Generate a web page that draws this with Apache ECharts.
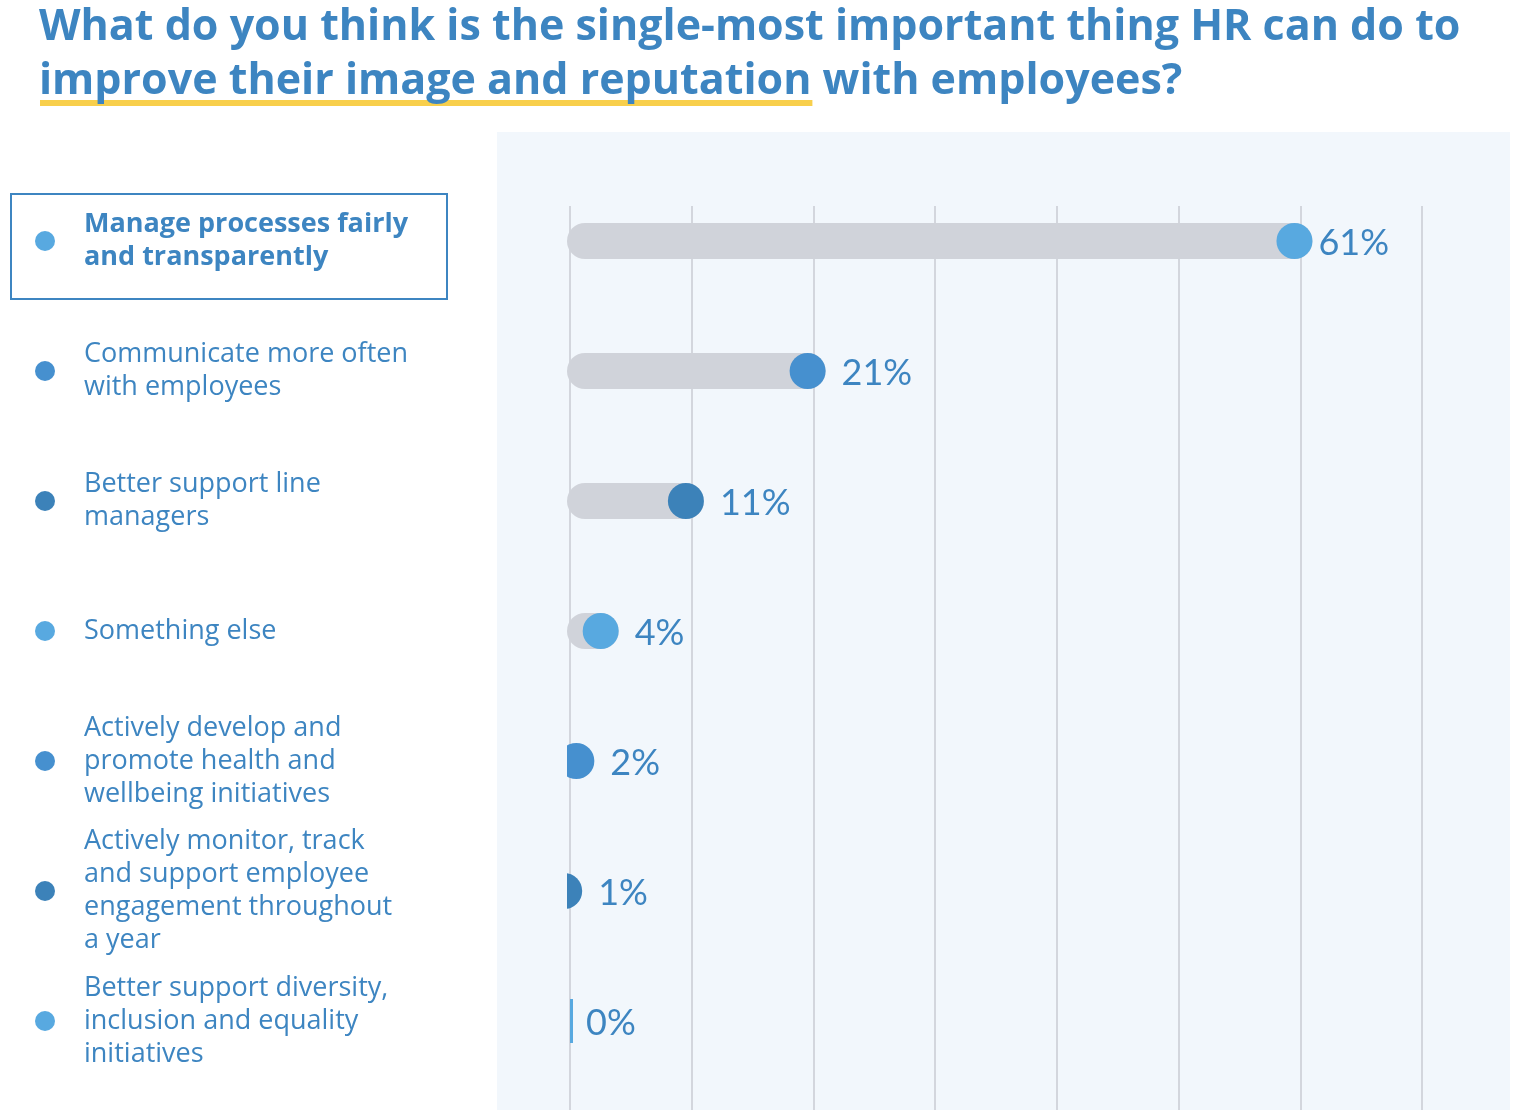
<!DOCTYPE html>
<html>
<head>
<meta charset="utf-8">
<script src="https://cdn.jsdelivr.net/npm/echarts@6/dist/echarts.min.js"></script>
<style>
html,body{margin:0;padding:0;background:#fff;}
#chart{width:1524px;height:1110px;}
</style>
</head>
<body>
<div id="chart"></div>
<script>
const titleLine1 = "What do you think is the single-most important thing HR can do to";
const titleUnderlined = "improve their image and reputation";
const titleRest = " with employees?";

const categories = [
  "Manage processes fairly\nand transparently",
  "Communicate more often\nwith employees",
  "Better support line\nmanagers",
  "Something else",
  "Actively develop and\npromote health and\nwellbeing initiatives",
  "Actively monitor, track\nand support employee\nengagement throughout\na year",
  "Better support diversity,\ninclusion and equality\ninitiatives"
];
const values = [61, 21, 11, 4, 2, 1, 0];
const highlighted = [true, false, false, false, false, false, false];
const axisTicks = [0, 10, 20, 30, 40, 50, 60, 70];

const dotColors = ["#58a9e0", "#4690cf", "#3c82b9"];
const textBlue = "#3d85c1";
const TITLE_FONT = "bold 43px 'Open Sans'";
const LABEL_FONT = "Open Sans";
const NUM_FONT = "Lato";

const chart = echarts.init(document.getElementById('chart'));

const cv = document.createElement('canvas').getContext('2d');
cv.font = TITLE_FONT;
const underlineW = cv.measureText(titleUnderlined).width;

const ROW_TOP = 176, ROW_H = 910;
const AX_LEFT = 570, AX_W = 852;

function renderBar(params, api) {
  const idx = api.value(1);
  const v = api.value(0);
  const p0 = api.coord([0, idx]);
  const p1 = api.coord([v, idx]);
  const y = p0[1];
  const h = 36, r = 18;
  const color = dotColors[params.dataIndex % 3];
  const children = [];
  const x0 = p0[0] - 3;
  const x1 = p1[0];
  if (v > 0) {
    if (x1 - x0 > h) {
      children.push({
        type: 'rect',
        shape: { x: x0, y: y - h / 2, width: x1 - x0, height: h, r: r },
        style: { fill: '#d0d3da' }
      });
    }
    children.push({
      type: 'circle',
      shape: { cx: x1 - r, cy: y, r: r },
      style: { fill: color },
      clipPath: { type: 'rect', shape: { x: x0, y: y - h, width: x1 - x0 + h, height: 2 * h } }
    });
  } else {
    children.push({
      type: 'rect',
      shape: { x: p0[0], y: y - 22, width: 3, height: 44 },
      style: { fill: color }
    });
  }
  children.push({
    type: 'text',
    style: {
      text: v + '%',
      x: x1 + (v > 50 ? 6 : 16),
      y: y + 2,
      fill: textBlue,
      fontSize: 36,
      fontFamily: NUM_FONT,
      verticalAlign: 'middle',
      align: 'left'
    }
  });
  return { type: 'group', children: children };
}

const labelStyle = {
  align: 'left', verticalAlign: 'middle',
  fontSize: 27, lineHeight: 33, color: textBlue, fontFamily: LABEL_FONT
};

const option = {
  backgroundColor: '#ffffff',
  animation: false,
  graphic: [
    { type: 'rect', z: -10, shape: { x: 497, y: 132, width: 1013, height: 978 }, style: { fill: '#f2f7fc' } },
    { type: 'rect', z: 1, shape: { x: 40, y: 100, width: underlineW, height: 6 }, style: { fill: '#f8cf4c' } },
    { type: 'text', z: 2, style: { text: titleLine1, x: 39, y: 28, fill: textBlue, font: TITLE_FONT, verticalAlign: 'middle' } },
    { type: 'text', z: 2, style: { text: titleUnderlined + titleRest, x: 39, y: 82, fill: textBlue, font: TITLE_FONT, verticalAlign: 'middle' } },
    { type: 'rect', z: 2, shape: { x: 11, y: 194, width: 436, height: 105 }, style: { fill: 'none', stroke: '#3d85c1', lineWidth: 2 } }
  ],
  grid: [
    { left: AX_LEFT, width: AX_W, top: 206, bottom: 0, outerBoundsMode: 'none', containLabel: false },
    { left: AX_LEFT, width: AX_W, top: ROW_TOP, height: ROW_H, outerBoundsMode: 'none', containLabel: false },
    { left: 25, width: 40, top: ROW_TOP, height: ROW_H, outerBoundsMode: 'none', containLabel: false }
  ],
  xAxis: [
    {
      gridIndex: 0, type: 'value', min: axisTicks[0], max: axisTicks[axisTicks.length - 1], interval: 10,
      axisLabel: { show: false }, axisLine: { show: false }, axisTick: { show: false },
      splitLine: { show: true, lineStyle: { color: '#d3d6dd', width: 2 } }
    },
    {
      gridIndex: 1, type: 'value', min: axisTicks[0], max: axisTicks[axisTicks.length - 1], interval: 10,
      show: false, splitLine: { show: false }
    },
    { gridIndex: 2, type: 'value', min: 0, max: 1, show: false, splitLine: { show: false } }
  ],
  yAxis: [
    { gridIndex: 0, type: 'value', min: 0, max: 1, show: false, splitLine: { show: false } },
    {
      gridIndex: 1, type: 'category', inverse: true,
      data: categories.map((c, i) => highlighted[i]
        ? { value: c, textStyle: Object.assign({}, labelStyle, { fontWeight: 'bold' }) }
        : c),
      axisLine: { show: false }, axisTick: { show: false }, splitLine: { show: false },
      axisLabel: Object.assign({ show: true, margin: AX_LEFT - 84, interval: 0 }, labelStyle)
    },
    { gridIndex: 2, type: 'category', inverse: true, data: categories, show: false }
  ],
  series: [
    {
      type: 'custom',
      xAxisIndex: 1, yAxisIndex: 1,
      clip: false,
      renderItem: renderBar,
      encode: { x: 0, y: 1 },
      data: values.map((v, i) => [v, i])
    },
    {
      type: 'scatter',
      xAxisIndex: 2, yAxisIndex: 2,
      symbolSize: 20,
      itemStyle: { opacity: 1 },
      data: categories.map((c, i) => ({ value: [0.5, i], itemStyle: { color: dotColors[i % 3], opacity: 1 } }))
    }
  ]
};
chart.setOption(option);
</script>
</body>
</html>
